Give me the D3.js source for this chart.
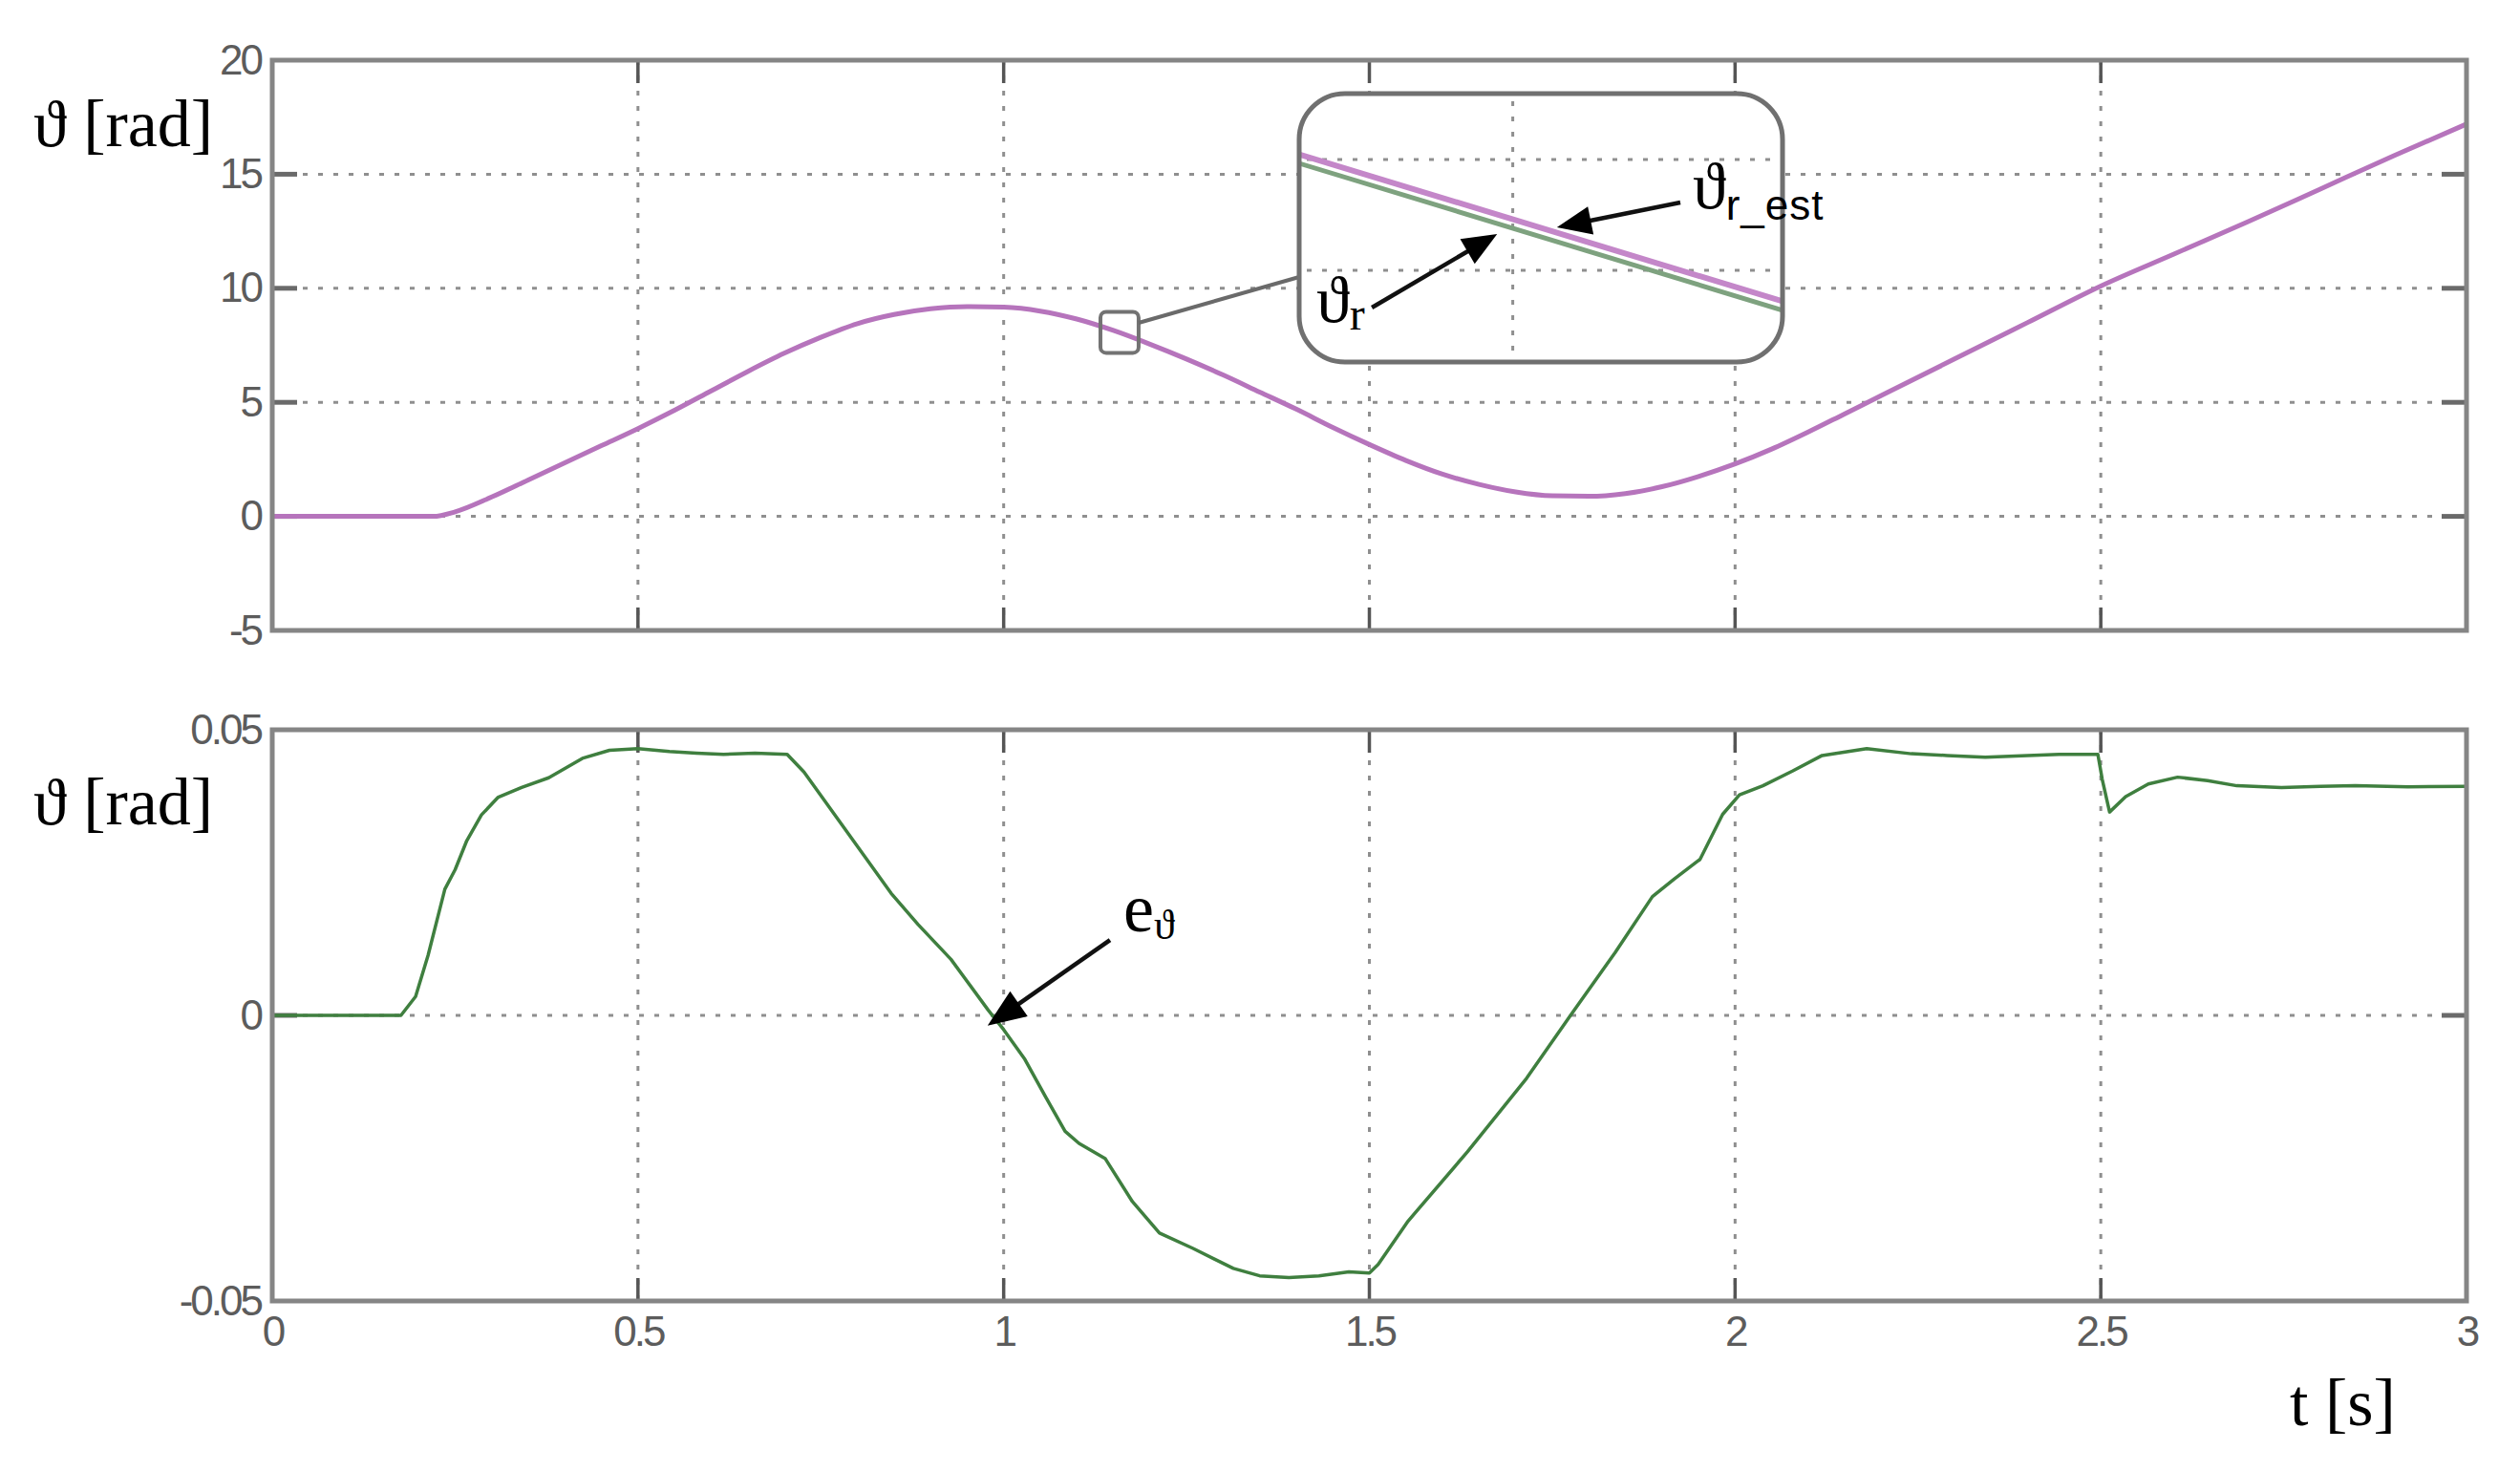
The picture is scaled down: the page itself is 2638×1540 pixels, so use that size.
<!DOCTYPE html>
<html><head><meta charset="utf-8">
<script src="https://cdn.jsdelivr.net/npm/d3@7"></script>
<style>body{margin:0;background:#fff}svg{display:block;background:#fff}</style>
</head><body>
<svg id="c" width="2638" height="1540"></svg>
<script>
// ---- data ----
const timeTheta = [0, 0.22, 0.25, 0.3, 0.35, 0.4, 0.45, 0.5, 0.55, 0.6, 0.65, 0.7, 0.75, 0.8, 0.85, 0.9, 0.95, 1.0, 1.05, 1.1, 1.15, 1.2, 1.25, 1.3, 1.35, 1.4, 1.45, 1.5, 1.55, 1.6, 1.65, 1.7, 1.75, 1.8, 1.85, 1.9, 1.95, 2.0, 2.05, 2.1, 2.15, 2.2, 2.3, 2.4, 2.5, 2.6, 2.7, 2.8, 2.9, 3.0];
const thetaEst  = [0, 0, 0.2, 0.85, 1.6, 2.35, 3.1, 3.85, 4.65, 5.5, 6.35, 7.15, 7.85, 8.45, 8.85, 9.1, 9.2, 9.17, 9.0, 8.65, 8.15, 7.55, 6.9, 6.2, 5.45, 4.7, 3.9, 3.15, 2.45, 1.85, 1.4, 1.07, 0.9, 0.88, 1.0, 1.3, 1.75, 2.3, 2.95, 3.7, 4.5, 5.3, 6.9, 8.5, 10.1, 11.5, 12.9, 14.35, 15.8, 17.2];

const timeErr = [0, 0.176, 0.196, 0.213, 0.236, 0.25, 0.266, 0.286, 0.309, 0.341, 0.378, 0.424, 0.461, 0.5, 0.543, 0.58, 0.617, 0.66, 0.704, 0.727, 0.754, 0.8, 0.846, 0.883, 0.928, 0.979, 1.0, 1.029, 1.057, 1.084, 1.103, 1.139, 1.176, 1.213, 1.259, 1.314, 1.35, 1.39, 1.431, 1.472, 1.5, 1.512, 1.553, 1.634, 1.715, 1.775, 1.836, 1.887, 1.917, 1.952, 1.983, 2.006, 2.038, 2.079, 2.119, 2.18, 2.241, 2.29, 2.342, 2.4, 2.443, 2.496, 2.502, 2.512, 2.534, 2.565, 2.605, 2.646, 2.686, 2.747, 2.8, 2.848, 2.92, 3.0];
const errTheta = [0, 0, 0.0033, 0.0105, 0.0221, 0.0255, 0.0306, 0.0351, 0.0382, 0.0399, 0.0416, 0.045, 0.0464, 0.0467, 0.0462, 0.0459, 0.0457, 0.0459, 0.0457, 0.0426, 0.0378, 0.0296, 0.0214, 0.0159, 0.0098, 0.0009, -0.0025, -0.0077, -0.0142, -0.0203, -0.0224, -0.0251, -0.0326, -0.0381, -0.0408, -0.0443, -0.0456, -0.0459, -0.0456, -0.0449, -0.0451, -0.0436, -0.036, -0.0239, -0.011, 0, 0.011, 0.0208, 0.0239, 0.0273, 0.0352, 0.0386, 0.0402, 0.0428, 0.0455, 0.0467, 0.0458, 0.0455, 0.0452, 0.0455, 0.0457, 0.0457, 0.0413, 0.0356, 0.0383, 0.0405, 0.0417, 0.0411, 0.0402, 0.0399, 0.0401, 0.0402, 0.04, 0.0401];

const xTicks = [0, 0.5, 1, 1.5, 2, 2.5, 3];
const xTickLabels = ["0", "0.5", "1", "1.5", "2", "2.5", "3"];
const topYTicks = [-5, 0, 5, 10, 15, 20];
const topYTickLabels = ["-5", "0", "5", "10", "15", "20"];
const botYTicks = [-0.05, 0, 0.05];
const botYTickLabels = ["-0.05", "0", "0.05"];

// zoomed inset (around t ≈ 1.16 s)
const insetTime = [1.130, 1.187];
const insetThetaEst = [8.60, 7.53];
const insetThetaR = [8.54, 7.47];
const insetGridT = [1.1552];
const insetGridV = [7.785, 8.528];

// ---- layout ----
const svg = d3.select("#c");
const X0 = 285, X1 = 2582;
const x = d3.scaleLinear().domain([0, 3]).range([X0, X1]);
const yTop = d3.scaleLinear().domain([-5, 20]).range([660, 63]);
const yBot = d3.scaleLinear().domain([-0.05, 0.05]).range([1362, 764]);

const frameCol = "#858585", gridCol = "#8f8f8f", tickCol = "#555";
const labelFont = "'Liberation Sans', Arial, sans-serif";
const serif = "'Liberation Serif', 'Times New Roman', 'DejaVu Serif', serif";

function panel(y, yTicks, yLabels, gridVals, showX) {
  const g = svg.append("g");
  const [yb, yt] = y.range();
  g.selectAll(".vg").data(xTicks.filter(d => d > 0 && d < 3)).enter().append("line")
    .attr("x1", d => x(d)).attr("x2", d => x(d)).attr("y1", yt).attr("y2", yb)
    .attr("stroke", gridCol).attr("stroke-width", 3).attr("stroke-dasharray", "5 11");
  g.selectAll(".hg").data(gridVals).enter().append("line")
    .attr("x1", X0).attr("x2", X1).attr("y1", d => y(d)).attr("y2", d => y(d))
    .attr("stroke", gridCol).attr("stroke-width", 3).attr("stroke-dasharray", "5 11");
  const xt = xTicks.filter(d => d > 0 && d < 3);
  g.selectAll(".xtt").data(xt).enter().append("line")
    .attr("x1", d => x(d)).attr("x2", d => x(d)).attr("y1", yt).attr("y2", yt + 24)
    .attr("stroke", tickCol).attr("stroke-width", 3.5);
  g.selectAll(".xtb").data(xt).enter().append("line")
    .attr("x1", d => x(d)).attr("x2", d => x(d)).attr("y1", yb).attr("y2", yb - 24)
    .attr("stroke", tickCol).attr("stroke-width", 3.5);
  const yti = yTicks.filter((d, i) => i > 0 && i < yTicks.length - 1);
  g.selectAll(".ytl").data(yti).enter().append("line")
    .attr("x1", X0).attr("x2", X0 + 26).attr("y1", d => y(d)).attr("y2", d => y(d))
    .attr("stroke", "#6a6a6a").attr("stroke-width", 5);
  g.selectAll(".ytr").data(yti).enter().append("line")
    .attr("x1", X1).attr("x2", X1 - 26).attr("y1", d => y(d)).attr("y2", d => y(d))
    .attr("stroke", "#6a6a6a").attr("stroke-width", 5);
  const ya = g.append("g").attr("transform", `translate(${X0},0)`)
    .call(d3.axisLeft(y).tickValues(yTicks).tickFormat((d, i) => yLabels[i]).tickSize(0).tickPadding(12));
  ya.select(".domain").remove();
  ya.selectAll("text").attr("font-family", labelFont).attr("font-size", 44)
    .attr("letter-spacing", "-3px").attr("fill", "#5c5c5c");
  if (showX) {
    const xa = g.append("g").attr("transform", `translate(0,${yb})`)
      .call(d3.axisBottom(x).tickValues(xTicks).tickFormat((d, i) => xTickLabels[i]).tickSize(0).tickPadding(16));
    xa.select(".domain").remove();
    xa.selectAll("text").attr("font-family", labelFont).attr("font-size", 44)
      .attr("letter-spacing", "-3px").attr("fill", "#5c5c5c");
  }
  return g;
}

panel(yTop, topYTicks, topYTickLabels, [0, 5, 10, 15], false);
panel(yBot, botYTicks, botYTickLabels, [0], true);

// data lines
const topData = timeTheta.map((t, i) => [t, thetaEst[i]]);
svg.append("path").datum(topData)
  .attr("d", d3.line().x(d => x(d[0])).y(d => yTop(d[1])).curve(d3.curveMonotoneX))
  .attr("fill", "none").attr("stroke", "#b674bc").attr("stroke-width", 5);

const botData = timeErr.map((t, i) => [t, errTheta[i]]);
svg.append("path").datum(botData)
  .attr("d", d3.line().x(d => x(d[0])).y(d => yBot(d[1])))
  .attr("fill", "none").attr("stroke", "#3f7f3f").attr("stroke-width", 3.5).attr("stroke-linejoin", "round");

// frames
svg.append("rect").attr("x", X0).attr("y", yTop.range()[1]).attr("width", X1 - X0)
  .attr("height", yTop.range()[0] - yTop.range()[1]).attr("fill", "none").attr("stroke", frameCol).attr("stroke-width", 5);
svg.append("rect").attr("x", X0).attr("y", yBot.range()[1]).attr("width", X1 - X0)
  .attr("height", yBot.range()[0] - yBot.range()[1]).attr("fill", "none").attr("stroke", frameCol).attr("stroke-width", 5);

// axis titles
function thetaRad(yBase) {
  const t = svg.append("text").attr("x", 35).attr("y", yBase)
    .attr("font-family", serif).attr("font-size", 70).attr("fill", "#000");
  t.append("tspan").text("\u03D1");
  t.append("tspan").text(" [rad]");
}
thetaRad(153);
thetaRad(863);
svg.append("text").attr("x", 2397).attr("y", 1492).attr("font-family", serif)
  .attr("font-size", 70).attr("fill", "#000").text("t [s]");

function arrow(x1, y1, x2, y2, L = 38, hw = 16) {
  const dx = x2 - x1, dy = y2 - y1, len = Math.hypot(dx, dy), ux = dx / len, uy = dy / len;
  const bx = x2 - ux * L, by = y2 - uy * L;
  svg.append("line").attr("x1", x1).attr("y1", y1).attr("x2", bx + ux * 3).attr("y2", by + uy * 3)
    .attr("stroke", "#111").attr("stroke-width", 4.5);
  svg.append("path").attr("d", `M${x2},${y2}L${bx - uy * hw},${by + ux * hw}L${bx + uy * hw},${by - ux * hw}Z`)
    .attr("fill", "#000");
}

// e_theta annotation
arrow(x(1.1454), yBot(0.0132), x(0.978), yBot(-0.0018), 40, 16);
const et = svg.append("text").attr("x", 1176).attr("y", 975).attr("font-family", serif)
  .attr("font-size", 72).attr("fill", "#000");
et.append("tspan").text("e");
et.append("tspan").attr("font-size", 44).attr("dy", 8).text("\u03D1");

// ---- inset ----
const IX0 = 1360, IX1 = 1866, IY0 = 98, IY1 = 379;
const ix = d3.scaleLinear().domain([1.132, 1.1845]).range([IX0, IX1]);
const iy = d3.scaleLinear().domain([7.17, 8.97]).range([IY1, IY0]);

svg.append("rect").attr("x", x(1.1323)).attr("y", yTop(8.97)).attr("width", x(1.1845) - x(1.1323))
  .attr("height", yTop(7.17) - yTop(8.97)).attr("rx", 6).attr("fill", "none")
  .attr("stroke", "#737373").attr("stroke-width", 4);
svg.append("line").attr("x1", x(1.1845)).attr("y1", 338).attr("x2", IX0).attr("y2", 290)
  .attr("stroke", "#6a6a6a").attr("stroke-width", 4);

const defs = svg.append("defs");
defs.append("clipPath").attr("id", "insetClip").append("rect")
  .attr("x", IX0).attr("y", IY0).attr("width", IX1 - IX0).attr("height", IY1 - IY0).attr("rx", 48);

svg.append("rect").attr("x", IX0).attr("y", IY0).attr("width", IX1 - IX0).attr("height", IY1 - IY0)
  .attr("rx", 48).attr("fill", "#fff");
const gi = svg.append("g").attr("clip-path", "url(#insetClip)");
gi.selectAll(".ig").data(insetGridV).enter().append("line")
  .attr("x1", IX0 + 8).attr("x2", IX1 - 8).attr("y1", d => iy(d)).attr("y2", d => iy(d))
  .attr("stroke", gridCol).attr("stroke-width", 3).attr("stroke-dasharray", "5 11");
gi.selectAll(".igv").data(insetGridT).enter().append("line")
  .attr("x1", d => ix(d)).attr("x2", d => ix(d)).attr("y1", IY0 + 8).attr("y2", IY1 - 8)
  .attr("stroke", gridCol).attr("stroke-width", 3).attr("stroke-dasharray", "5 11");
const iline = d3.line().x(d => ix(d[0])).y(d => iy(d[1]));
gi.append("path").datum(insetTime.map((t, i) => [t, insetThetaR[i]])).attr("d", iline)
  .attr("fill", "none").attr("stroke", "#7ea27f").attr("stroke-width", 5);
gi.append("path").datum(insetTime.map((t, i) => [t, insetThetaEst[i]])).attr("d", iline)
  .attr("fill", "none").attr("stroke", "#c487c9").attr("stroke-width", 6);
svg.append("rect").attr("x", IX0).attr("y", IY0).attr("width", IX1 - IX0).attr("height", IY1 - IY0)
  .attr("rx", 48).attr("fill", "none").attr("stroke", "#707070").attr("stroke-width", 5);

arrow(ix(1.1399), iy(7.535), ix(1.1535), iy(8.028), 36, 15);
arrow(ix(1.1734), iy(8.24), ix(1.1600), iy(8.073), 36, 15);

const lr = svg.append("text").attr("x", 1378).attr("y", 337).attr("font-family", serif)
  .attr("font-size", 70).attr("fill", "#000");
lr.append("tspan").text("\u03D1");
lr.append("tspan").attr("font-family", serif).attr("font-size", 48).attr("dy", 8).text("r");

const le = svg.append("text").attr("x", 1772).attr("y", 218).attr("font-family", serif)
  .attr("font-size", 70).attr("fill", "#000");
le.append("tspan").text("\u03D1");
le.append("tspan").attr("font-family", labelFont).attr("font-size", 44).attr("dy", 12)
  .attr("letter-spacing", "1px").text("r_est");
</script>
</body></html>
